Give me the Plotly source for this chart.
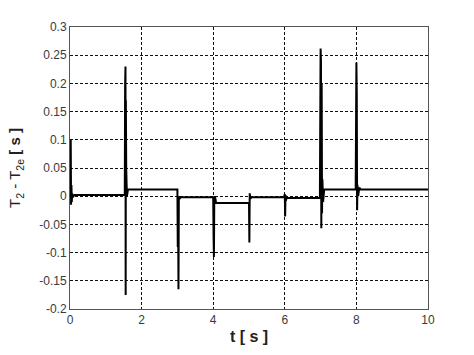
import plotly.graph_objects as go

# time points [s] and deviation values T2 - T2e [s]
t_values = [0.0, 0.02, 0.03, 0.04, 0.05, 0.06, 0.08, 0.12,
            1.53, 1.54, 1.55, 1.555, 1.56, 1.565, 1.57, 1.59, 1.62,
            2.98, 3.0, 3.01, 3.02, 3.03, 3.04, 3.06, 3.08,
            3.98, 4.0, 4.01, 4.02, 4.03, 4.05, 4.08,
            4.98, 5.0, 5.01, 5.02, 5.04, 5.07,
            5.98, 6.0, 6.01, 6.02, 6.03, 6.05,
            6.98, 7.0, 7.01, 7.02, 7.03, 7.04, 7.05, 7.07, 7.1,
            7.98, 8.0, 8.01, 8.02, 8.03, 8.05, 8.08, 8.12,
            10.0]
dev_values = [0.0, 0.1, -0.015, 0.02, -0.01, 0.005, -0.002, 0.002,
              0.002, 0.2, 0.23, -0.175, 0.17, -0.1, 0.05, 0.0, 0.012,
              0.012, 0.012, -0.09, -0.02, -0.165, 0.0, -0.005, -0.002,
              -0.002, -0.002, -0.07, -0.108, -0.01, 0.0, -0.012,
              -0.012, -0.012, -0.082, 0.005, -0.004, -0.002,
              -0.002, 0.004, -0.036, 0.002, -0.008, -0.003,
              -0.003, 0.262, 0.24, -0.057, 0.2, -0.03, 0.03, -0.01, 0.012,
              0.012, 0.237, 0.18, -0.025, 0.02, 0.0, 0.015, 0.012,
              0.012]

x_ticks = [0, 2, 4, 6, 8, 10]
y_ticks = [-0.2, -0.15, -0.1, -0.05, 0, 0.05, 0.1, 0.15, 0.2, 0.25, 0.3]
y_tick_text = ["-0.2", "-0.15", "-0.1", "-0.05", "0", "0.05", "0.1", "0.15", "0.2", "0.25", "0.3"]

fig = go.Figure()
fig.add_trace(go.Scatter(x=t_values, y=dev_values, mode="lines",
                         line=dict(color="black", width=2), showlegend=False))

tick_font = dict(family="Liberation Sans, Arial, sans-serif", size=12, color="#3a3a3a")
title_font = dict(family="Liberation Sans, Arial, sans-serif", size=16, color="#222222")

fig.update_layout(
    width=474, height=355,
    margin=dict(l=70, r=46, t=27, b=42),
    paper_bgcolor="white", plot_bgcolor="white",
    xaxis=dict(range=[0, 10], tickvals=x_ticks, showgrid=True, gridcolor="#111111",
               griddash="3px,2px", gridwidth=1, zeroline=False, showline=True,
               linecolor="#555555", linewidth=1, mirror=True, tickfont=tick_font,
               ticks="", title=dict(text="<b>t [ s ]</b>", font=title_font, standoff=4)),
    yaxis=dict(range=[-0.2, 0.3], tickvals=y_ticks, ticktext=y_tick_text, showgrid=True,
               gridcolor="#111111", griddash="3px,2px", gridwidth=1, zeroline=False,
               showline=True, linecolor="#555555", linewidth=1, mirror=True,
               tickfont=tick_font, ticks="",
               title=dict(text="T<sub>2</sub> - T<sub>2e</sub> <b>[ s ]</b>",
                          font=dict(family="Liberation Sans, Arial, sans-serif", size=15,
                                    color="#222222"), standoff=14)),
)

fig.write_html("out.html")
